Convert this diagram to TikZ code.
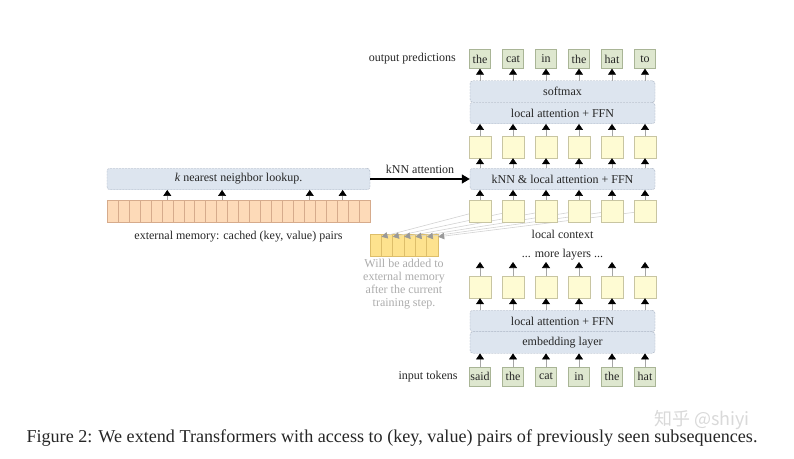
\documentclass[tikz,border=0pt]{standalone}
\usepackage{fontspec}
\setmainfont{Liberation Serif}
\newfontfamily\cjkfont{Noto Sans CJK SC}
\usetikzlibrary{arrows.meta, positioning, calc, backgrounds}
\definecolor{layerfill}{HTML}{DDE5EF}
\definecolor{layerline}{HTML}{A3ADBD}
\definecolor{tokfill}{HTML}{DEE7CF}
\definecolor{tokline}{HTML}{A9B596}
\definecolor{hidfill}{HTML}{FEFBD3}
\definecolor{hidline}{HTML}{C8C5A2}
\definecolor{memfill}{HTML}{FDDAB8}
\definecolor{memline}{HTML}{D6AB8C}
\definecolor{newfill}{HTML}{FDE28E}
\definecolor{newline}{HTML}{DDBE6A}

\begin{document}
\begin{tikzpicture}[x=1pt, y=-1pt,
    every node/.style={font=\fontsize{12}{13}\selectfont, text=black!85},
    layer/.style={draw=layerline, dash pattern=on 2pt off 1pt, rounded corners=3pt, fill=layerfill,
        minimum width=185pt, minimum height=21.5pt, inner sep=0pt},
    token/.style={draw=tokline, fill=tokfill, minimum width=21pt, minimum height=19pt, inner sep=1pt},
    hidden/.style={draw=hidline, fill=hidfill, minimum size=22pt, inner sep=0pt},
    memcell/.style={draw=memline, fill=memfill, minimum width=10.96pt, minimum height=22pt, inner sep=0pt},
    newcell/.style={draw=newline, fill=newfill, minimum width=11.33pt, minimum height=22pt, inner sep=0pt},
    up/.style={draw=gray!70, line width=0.6pt, -{Triangle[width=8pt,length=6pt,black]}}]
    \useasboundingbox (0,0) rectangle (794,458);
    % transformer columns
    \foreach \w [count=\i from 0] in {the,cat,in,the,hat,to}
        \node[token] (o\i) at (480+33*\i,59) {\w};
    \foreach \w [count=\i from 0] in {said,the,cat,in,the,hat}
        \node[token] (x\i) at (480+33*\i,376.5) {\w};
    \foreach \i in {0,...,5} {
        \node[hidden] (h\i) at (480+33*\i,147) {};
        \node[hidden] (c\i) at (480+33*\i,211) {};
        \node[hidden] (g\i) at (480+33*\i,287) {};
        \coordinate (top\i) at (480+33*\i,262);
    }
    \node[layer] (soft) at (562.5,91.5) {softmax};
    \node[layer] (lat) at (562.5,113) {local attention + FFN};
    \node[layer] (knn) at (562.5,179) {kNN \& local attention + FFN};
    \node[layer] (lat2) at (562.5,321) {local attention + FFN};
    \node[layer] (emb) at (562.5,342.5) {embedding layer};
    \foreach \i in {0,...,5} {
        \draw[up] (soft.north -| o\i) -- (o\i.south);
        \draw[up] (h\i.north) -- (lat.south -| h\i);
        \draw[up] (knn.north -| h\i) -- (h\i.south);
        \draw[up] (c\i.north) -- (knn.south -| c\i);
        \draw[up] (g\i.north) -- (top\i);
        \draw[up] (lat2.north -| g\i) -- (g\i.south);
        \draw[up] (x\i.north) -- (emb.south -| x\i);
    }
    \node[left=10pt of o0] (outlbl) {output predictions};
    \node[left=8pt of x0] (inlbl) {input tokens};
    \node (ctxlbl) at (562.5,234) {local context};
    \node (morelbl) at (562.5,255) {... more layers ...};

    % external memory
    \foreach \i in {1,...,24}
        \node[memcell] (m\i) at (107+10.96*\i-5.48,211) {};
    \node[layer, minimum width=263pt] (lookup) at (238.5,179) {\textit{k} nearest neighbor lookup.};
    \foreach \i in {6,11,19,22}
        \draw[up] (m\i.north) -- (lookup.south -| m\i);
    \node (memlbl) at (238.5,237) {external memory: cached (key, value) pairs};
    \draw[line width=1.3pt, -{Triangle[width=9pt,length=8pt]}] (lookup) -- (knn)
        node[midway, above=1pt] (knnlbl) {kNN attention};

    % new memory
    \begin{scope}[on background layer]
        \foreach \i in {1,...,6} {
            \node[newcell] (n\i) at (370+11.33*\i-5.67,245) {};
            \coordinate (tip\i) at ($(n\i.north east)+(0,3)$);
        }
        \foreach \i [evaluate=\i as \j using int(\i+1)] in {0,...,5}
            \draw[gray!35, line width=0.6pt, -{Triangle[width=6.5pt,length=6pt,gray!80]}] (c\i.center) -- (tip\j);
    \end{scope}
    \node[text=gray!65, align=center] (note) at (404,284.5)
        {Will be added to\\external memory\\after the current\\training step.};

    % caption and mark
    \node[text=gray!30, font=\cjkfont\fontsize{18}{20}\selectfont] (mark) at (702,420) {知乎 @shiyi};
    \node[text=black!85] (caption) at (392,438)
        {\resizebox{731pt}{!}{\fontsize{17}{19}\selectfont Figure 2: We extend Transformers with access to (key, value) pairs of previously seen subsequences.}};
\end{tikzpicture}
\end{document}
